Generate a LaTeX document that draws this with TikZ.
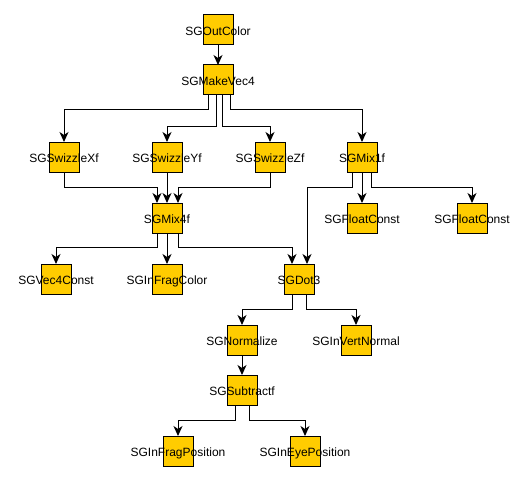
\documentclass[tikz,border=0pt]{standalone}
\usepackage{fontspec}
\setmainfont{Liberation Sans}
\usetikzlibrary{arrows.meta}
\definecolor{boxyellow}{RGB}{255,204,0}
\tikzset{
  box/.style={draw=black, fill=boxyellow, line width=1pt, minimum width=30pt, minimum height=30pt, inner sep=0pt, outer sep=0pt,
    label={[lbl]center:#1}},
  lbl/.style={font=\fontsize{12}{14}\selectfont, text=black, inner sep=0pt, text height=10.5pt, text depth=0pt},
  arr/.style={draw=black, line width=1pt, -{Stealth[length=10pt,width=9pt,inset=3pt]}},
}
\begin{document}
\begin{tikzpicture}[x=1pt,y=-1pt]
\useasboundingbox (0,0) rectangle (526,481);
\node[box=SGOutColor] (oc) at (218,30) {};
\node[box=SGMakeVec4] (mv) at (218,80) {};
\node[box=SGSwizzleXf] (sx) at (64,157) {};
\node[box=SGSwizzleYf] (sy) at (167,157) {};
\node[box=SGSwizzleZf] (sz) at (270,157) {};
\node[box=SGMix1f] (m1) at (362,157) {};
\node[box=SGMix4f] (m4) at (167,218) {};
\node[box=SGFloatConst] (f1) at (362,218) {};
\node[box=SGFloatConst] (f2) at (472,218) {};
\node[box=SGVec4Const] (vc) at (56,279) {};
\node[box=SGInFragColor] (ifc) at (167,279) {};
\node[box=SGDot3] (d3) at (299,279) {};
\node[box=SGNormalize] (nz) at (242,340) {};
\node[box=SGInVertNormal] (vn) at (356,340) {};
\node[box=SGSubtractf] (sb) at (242,390) {};
\node[box=SGInFragPosition] (fp) at (178,451) {};
\node[box=SGInEyePosition] (ep) at (305,451) {};

\draw[arr] (oc) -- (mv);
\draw[arr] ([xshift=-10pt]mv.south) -- ++(0,15) -| (sx);
\draw[arr] ([xshift=-2pt]mv.south) -- ++(0,32) -| (sy);
\draw[arr] ([xshift=4pt]mv.south) -- ++(0,32) -| (sz);
\draw[arr] ([xshift=12pt]mv.south) -- ++(0,15) -| (m1);
\draw[arr] (sx.south) -- ++(0,15) -| ([xshift=-10pt]m4.north);
\draw[arr] (sy) -- (m4);
\draw[arr] (sz.south) -- ++(0,15) -| ([xshift=11pt]m4.north);
\draw[arr] ([xshift=-10pt]m4.south) -- ++(0,14) -| (vc);
\draw[arr] (m4) -- (ifc);
\draw[arr] ([xshift=11pt]m4.south) -- ++(0,14) -| ([xshift=-7pt]d3.north);
\draw[arr] ([xshift=-10pt]m1.south) -- ++(0,15) -| ([xshift=8pt]d3.north);
\draw[arr] (m1) -- (f1);
\draw[arr] ([xshift=9pt]m1.south) -- ++(0,15) -| (f2);
\draw[arr] ([xshift=-7pt]d3.south) -- ++(0,15) -| (nz);
\draw[arr] ([xshift=7pt]d3.south) -- ++(0,15) -| (vn);
\draw[arr] (nz) -- (sb);
\draw[arr] ([xshift=-7pt]sb.south) -- ++(0,15) -| (fp);
\draw[arr] ([xshift=7pt]sb.south) -- ++(0,15) -| (ep);
\end{tikzpicture}
\end{document}
